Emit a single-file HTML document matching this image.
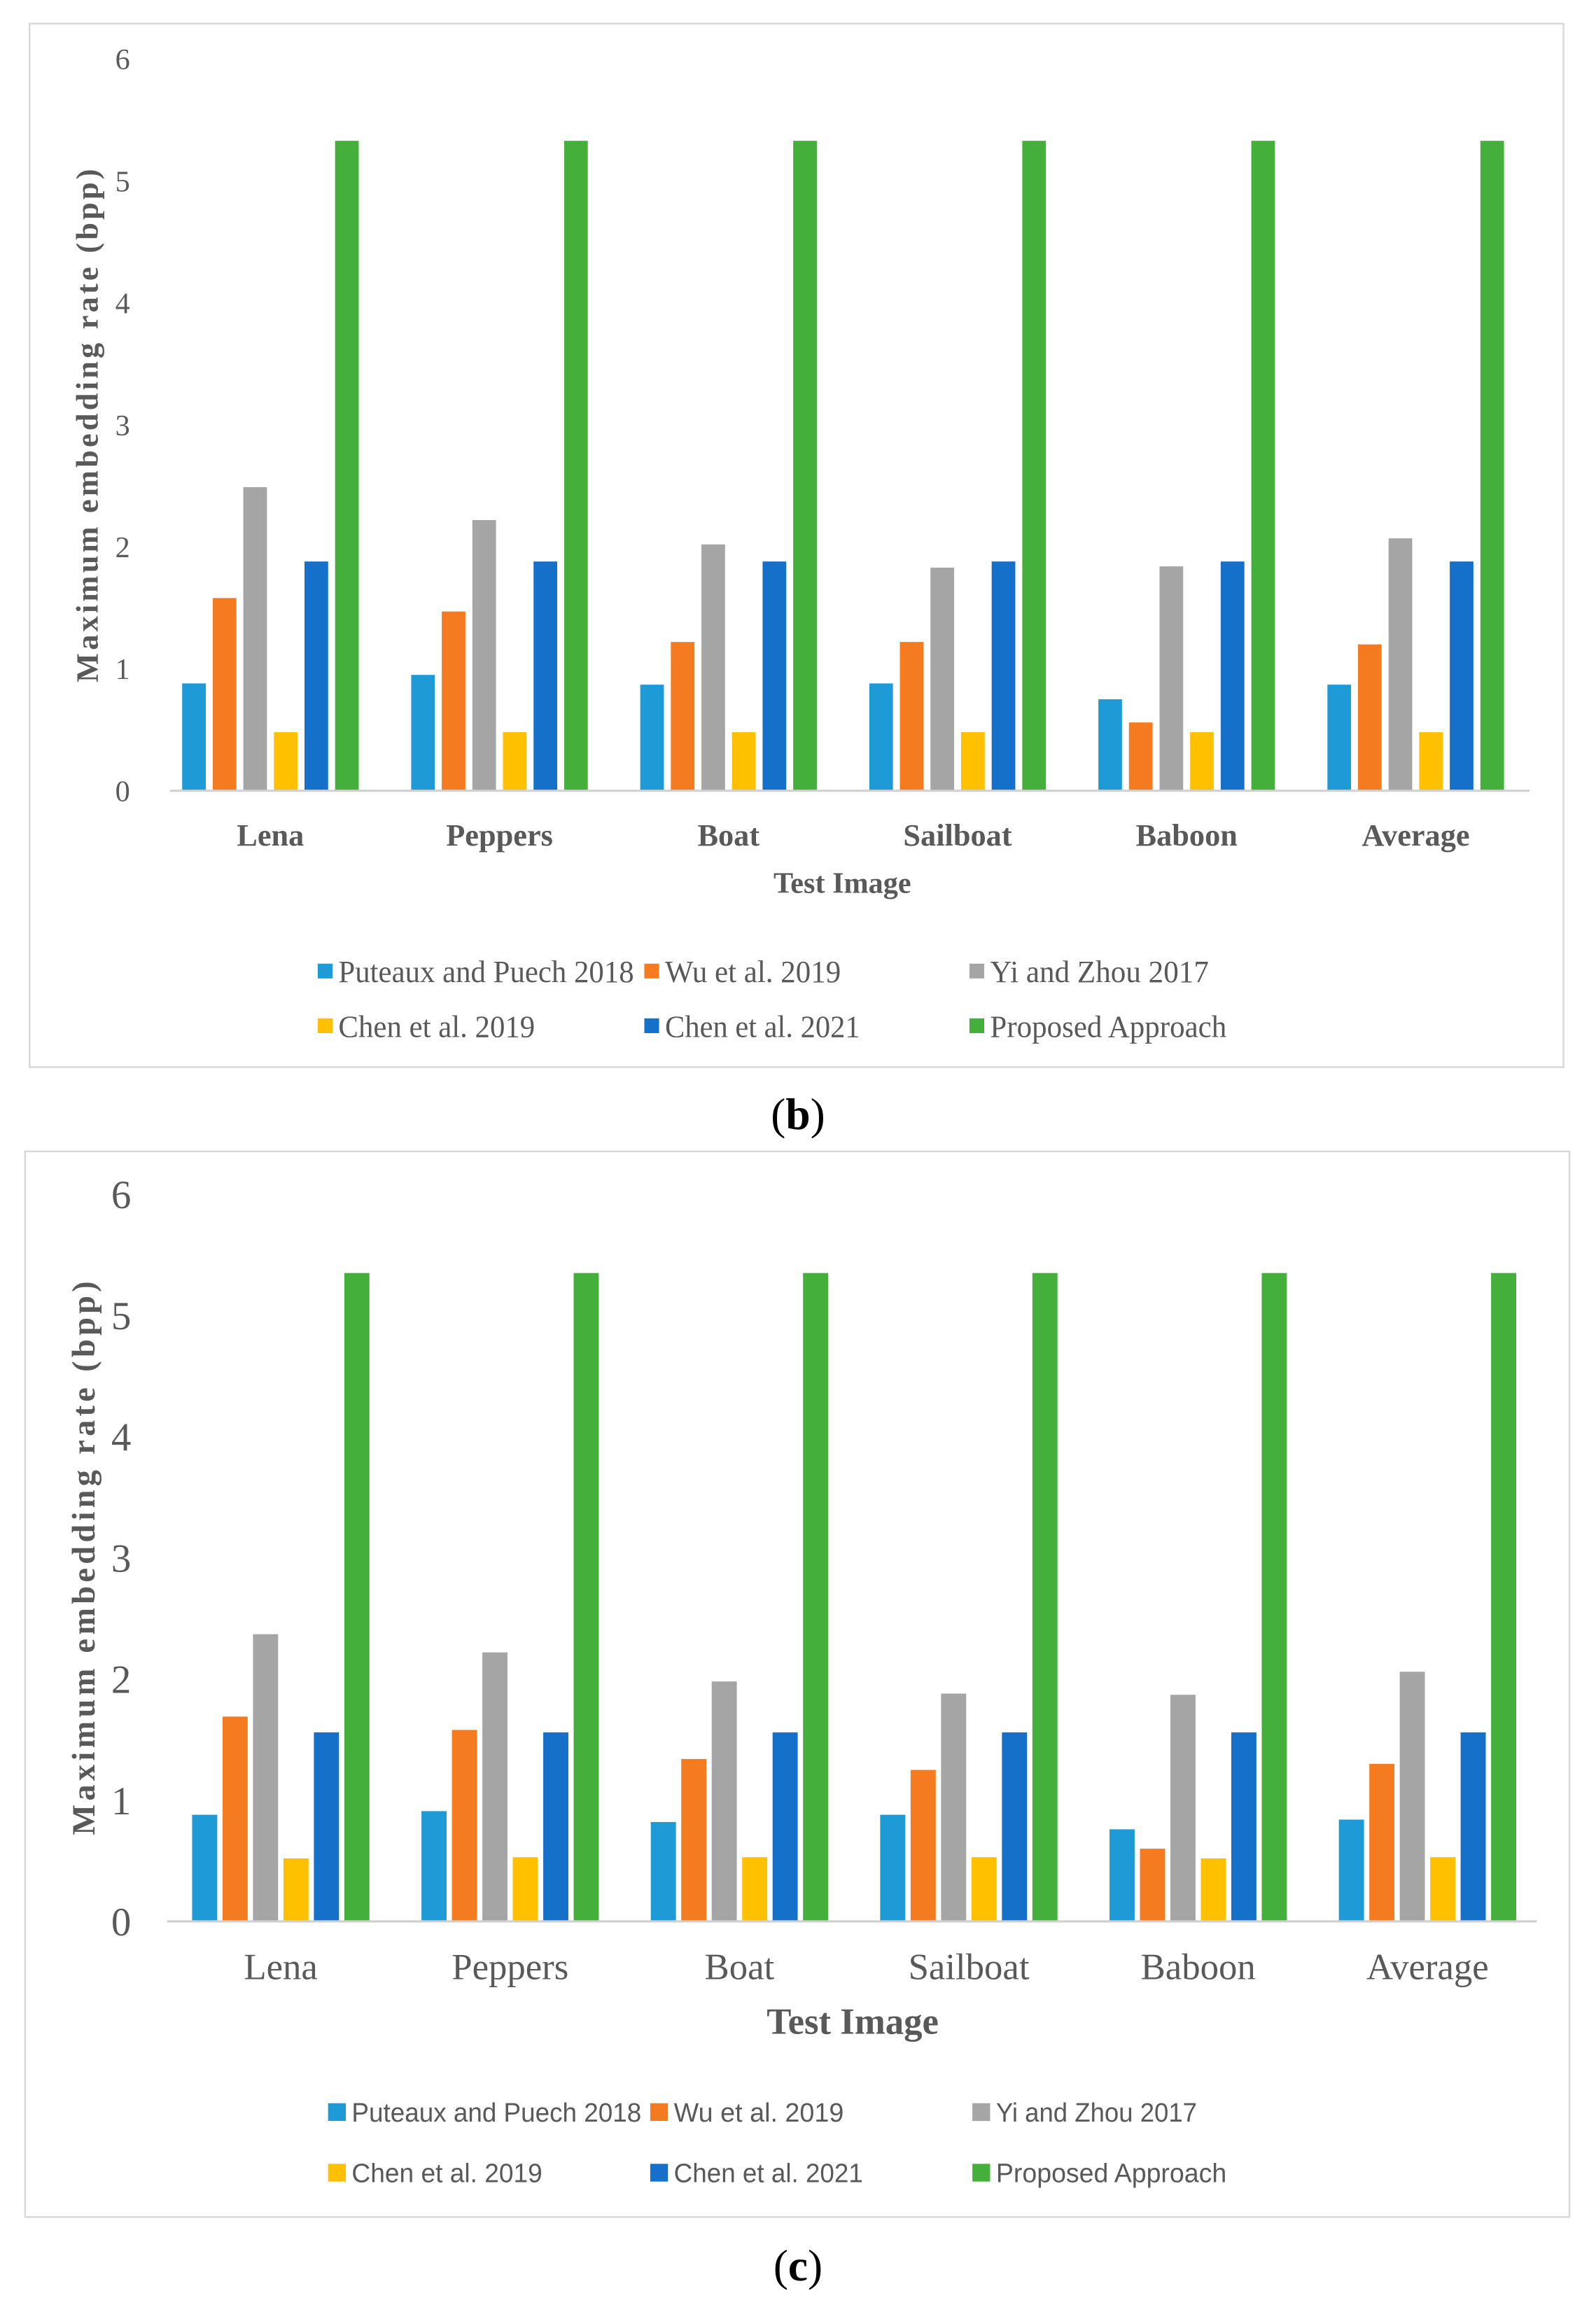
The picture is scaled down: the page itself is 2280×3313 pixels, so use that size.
<!DOCTYPE html>
<html><head><meta charset="utf-8"><style>
html,body{margin:0;padding:0;background:#fff}
svg{display:block}
</style></head><body>
<svg id="root" xmlns="http://www.w3.org/2000/svg" width="2280" height="3313" viewBox="0 0 1080 1569" preserveAspectRatio="none">
</svg>
<script>
const categories = ["Lena","Peppers","Boat","Sailboat","Baboon","Average"];
const seriesNames = ["Puteaux and Puech 2018","Wu et al. 2019","Yi and Zhou 2017","Chen et al. 2019","Chen et al. 2021","Proposed Approach"];
const colors = ["#1e9bd7","#f47b20","#a5a5a5","#ffc000","#1470c8","#44b03b"];
const yTicks = [0,1,2,3,4,5,6];
const bPuteaux = [0.88,0.95,0.87,0.88,0.75,0.87];
const bWu = [1.58,1.47,1.22,1.22,0.56,1.20];
const bYi = [2.49,2.22,2.02,1.83,1.84,2.07];
const bChen19 = [0.48,0.48,0.48,0.48,0.48,0.48];
const bChen21 = [1.88,1.88,1.88,1.88,1.88,1.88];
const bProposed = [5.33,5.33,5.33,5.33,5.33,5.33];
const cPuteaux = [0.88,0.91,0.82,0.88,0.76,0.84];
const cWu = [1.69,1.58,1.34,1.25,0.60,1.30];
const cYi = [2.37,2.22,1.98,1.88,1.87,2.06];
const cChen19 = [0.52,0.53,0.53,0.53,0.52,0.53];
const cChen21 = [1.56,1.56,1.56,1.56,1.56,1.56];
const cProposed = [5.35,5.35,5.35,5.35,5.35,5.35];

const NS = "http://www.w3.org/2000/svg";
const root = document.getElementById('root');
function mk(tag, attrs, parent, text){
  const e = document.createElementNS(NS, tag);
  for (const k in attrs) e.setAttribute(k, attrs[k]);
  if (text !== undefined) e.textContent = text;
  (parent||root).appendChild(e);
  return e;
}

function chart(cfg, series, id){
  const g = mk('g', {});
  
  
  const fr = mk('rect', {x:cfg.fx, y:cfg.fy, width:cfg.fw, height:cfg.fh, fill:'#fff', stroke:'#d9d9d9', 'stroke-width':1.2}, g);
  
  
  const yScale = v => cfg.y0 - v * cfg.unit;
  const xGroup = i => cfg.gx0 + i * cfg.gstep;
  yTicks.forEach(t => {
    const tl = mk('text', {x:cfg.tickX, y:yScale(t)+cfg.tickFs*0.35, 'font-family':'Liberation Serif, serif', 'font-size':cfg.tickFs, fill:'#595959', 'text-anchor':'middle'}, g, String(t));
    
    
  });
  series.forEach((vals, s) => {
    vals.forEach((v, i) => {
      const x = xGroup(i) - 3*cfg.bstep + s*cfg.bstep + (cfg.bstep - cfg.bw)/2;
      const r = mk('rect', {x:x, y:yScale(v), width:cfg.bw, height:yScale(0)-yScale(v), fill:colors[s]}, g);
      
      
    });
  });
  const ax = mk('line', {x1:cfg.ax1, x2:cfg.ax2, y1:cfg.y0, y2:cfg.y0, stroke:'#d0d0d0', 'stroke-width':1.5}, g);
  
  
  categories.forEach((c, i) => {
    const t = mk('text', {x:xGroup(i), y:cfg.catY, 'font-family':'Liberation Serif, serif', 'font-size':cfg.catFs, 'font-weight':cfg.catBold?'bold':'normal', fill:'#595959', 'text-anchor':'middle'}, g, c);
    
    
  });
  const xt = mk('text', {x:cfg.xtX, y:cfg.xtY, 'font-family':'Liberation Serif, serif', 'font-size':cfg.xtFs, 'font-weight':'bold', fill:'#595959', 'text-anchor':'middle'}, g, 'Test Image');
  
  
  const yt = mk('text', {x:0, y:0, transform:'translate(' + cfg.ytX + ',' + cfg.ytY + ') rotate(-90)', 'font-family':'Liberation Serif, serif', 'font-size':cfg.ytFs, 'font-weight':'bold', fill:'#595959', 'text-anchor':'middle', 'letter-spacing':cfg.ytLs}, g, 'Maximum embedding rate (bpp)');
  
  
  seriesNames.forEach((n, s) => {
    const col = s % 3, row = Math.floor(s / 3);
    const lx = cfg.legX[col], ly = cfg.legY[row];
    const lg = mk('g', {}, g);
    
    
    mk('rect', {x:lx, y:ly-cfg.sq/2, width:cfg.sq, height:cfg.sq, fill:colors[s]}, lg);
    mk('text', {x:lx+cfg.sq+4, y:ly+cfg.legFs*0.36, 'font-family':cfg.legFont, 'font-size':cfg.legFs, fill:'#595959', textLength:cfg.legLen[s], lengthAdjust:'spacingAndGlyphs'}, lg, n);
  });
  const cap = mk('text', {x:540, y:cfg.capY, 'font-family':'Liberation Serif, serif', 'font-size':30, fill:'#000', 'text-anchor':'middle'}, root);
  
  
  mk('tspan', {}, cap, '(');
  mk('tspan', {'font-weight':'bold'}, cap, id);
  mk('tspan', {}, cap, ')');
}

chart({fx:20,fy:16,fw:1038,fh:706,y0:535,unit:82.5,tickX:83,tickFs:20,gx0:183,gstep:155,bstep:20.7,bw:16,ax1:115,ax2:1035,
  catY:572,catFs:21,catBold:true,xtX:570,xtY:604,xtFs:20,ytX:66,ytY:287,ytFs:21,ytLs:2,
  legX:[215,436,656],legY:[657,694],sq:10,legFont:'Liberation Serif, serif',legFs:21,
  legLen:[200,119,148,133,132,160],capY:764},
  [bPuteaux,bWu,bYi,bChen19,bChen21,bProposed],'b');

chart({fx:17,fy:779,fw:1045,fh:721,y0:1300,unit:82,tickX:82,tickFs:27,gx0:190,gstep:155.2,bstep:20.6,bw:17,ax1:113,ax2:1040,
  catY:1339,catFs:25,catBold:false,xtX:577,xtY:1376,xtFs:25,ytX:64,ytY:1053,ytFs:22,ytLs:2.5,
  legX:[222,440,658],legY:[1429,1470],sq:12,legFont:'Liberation Sans, sans-serif',legFs:18,
  legLen:[196,115,136,129,128,156],capY:1543},
  [cPuteaux,cWu,cYi,cChen19,cChen21,cProposed],'c');
</script>
</body></html>
